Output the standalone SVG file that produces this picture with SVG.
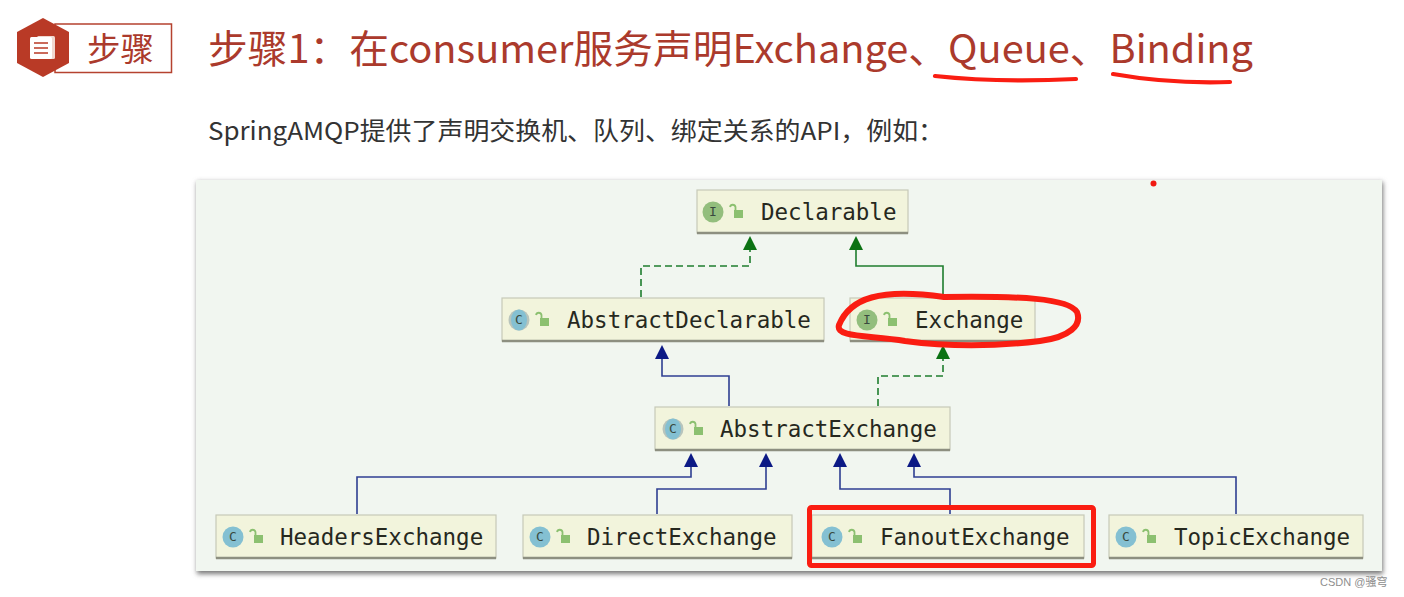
<svg xmlns="http://www.w3.org/2000/svg" width="1404" height="597" viewBox="0 0 1404 597">
<style>
.t{font-family:"DejaVu Sans Mono","Liberation Mono",monospace;font-size:22.5px;fill:#26281e}
.n{fill:#f2f4dc;stroke:#c6c9b8;stroke-width:1.2}
.b{stroke:#8d8f80;stroke-width:2.5}
.ci{fill:#84c0d2}.ii{fill:#93be7d}
.l{font-family:"DejaVu Sans Mono",monospace;font-size:13px;fill:#3a4a40;text-anchor:middle}
.lk{fill:#8cc070}
.bl{fill:none;stroke:#2f3f92;stroke-width:1.6}
.gr{fill:none;stroke:#1f7d2e;stroke-width:1.6}
.da{stroke-dasharray:7 4}
.ab{fill:#0c1a85}.ag{fill:#0b7213}
.red{fill:none;stroke:#fa1d12;stroke-linecap:round;stroke-linejoin:round}
.h{font-family:"Noto Sans CJK SC","Noto Sans",sans-serif;fill:#ab3a2c}
</style>
<defs>
<filter id="s" x="-3%" y="-5%" width="106%" height="110%"><feGaussianBlur stdDeviation="2.5"/></filter>
<g id="lock"><path d="M-7-5a2.800 2.800 0 0 1 5.500 0v3" fill="none" stroke="#8cc070" stroke-width="1.800"/><rect class="lk" x="-3" y="-2" width="9" height="8"/></g>
</defs>
<rect width="1404" height="597" fill="#fff"/>
<g id="badge">
<rect x="55" y="24" width="116.500" height="48.500" fill="#fff" stroke="#b5422f" stroke-width="1.500"/>
<polygon points="43,18 69,32 69,63 43,77 17,63 17,32" fill="#b93a26"/>
<rect x="37" y="36" width="18" height="23" rx="1.500" fill="#f0d8d0"/>
<rect x="30" y="37" width="22" height="22" rx="1.500" fill="#fff"/>
<path d="M34 43h14M34 48h14M34 53h14" stroke="#b93a26" stroke-width="1.300"/>
<text class="h" x="87" y="61" font-size="33.500">步骤</text>
</g>
<text class="h" x="208" y="63" font-size="39" textLength="1045" lengthAdjust="spacingAndGlyphs">步骤1：在consumer服务声明Exchange、Queue、Binding</text>
<text x="208" y="140" font-family="Noto Sans CJK SC,Noto Sans,sans-serif" font-size="24.500" fill="#333" textLength="736" lengthAdjust="spacingAndGlyphs">SpringAMQP提供了声明交换机、队列、绑定关系的API，例如：</text>
<rect x="197" y="182" width="1186" height="392" fill="#777" filter="url(#s)"/>
<rect x="196" y="180" width="1186" height="391" fill="#f1f6f0"/>
<g id="connectors">
<path class="gr da" d="M641 297V266H750V246"/>
<path class="gr" d="M943 297V266H856V246"/>
<path class="bl" d="M729 406V376H662V355"/>
<path class="gr da" d="M878 406V376H943V355"/>
<path class="bl" d="M357 514V477H691V463"/>
<path class="bl" d="M657 514V489H766V463"/>
<path class="bl" d="M950 514V489H840V463"/>
<path class="bl" d="M1236 514V477H914V463"/>
<polygon class="ag" points="750,236 743,250 757,250"/>
<polygon class="ag" points="856,236 849,250 863,250"/>
<polygon class="ab" points="662,345 655,359 669,359"/>
<polygon class="ag" points="943,345 936,359 950,359"/>
<polygon class="ab" points="691,453 684,467 698,467"/>
<polygon class="ab" points="766,453 759,467 773,467"/>
<polygon class="ab" points="840,453 833,467 847,467"/>
<polygon class="ab" points="914,453 907,467 921,467"/>
</g>
<g id="n-declarable">
<rect class="n" x="697" y="190" width="211" height="43"/><path class="b" d="M697 233H908"/>
<circle class="ii" cx="713" cy="212" r="10.500"/><text class="l" x="713" y="216">I</text><use href="#lock" x="737" y="212"/>
<text class="t" x="761" y="220">Declarable</text>
</g>
<g id="n-abstractdeclarable">
<rect class="n" x="502" y="298" width="322" height="43"/><path class="b" d="M502 341H824"/>
<circle fill="#b8c4bc" cx="519" cy="320" r="10.500"/><ellipse class="ci" cx="519" cy="320" rx="8" ry="10.500"/><text class="l" x="519" y="324">C</text><use href="#lock" x="543" y="320"/>
<text class="t" x="567" y="328">AbstractDeclarable</text>
</g>
<g id="n-exchange">
<rect class="n" x="850" y="298" width="185" height="43"/><path class="b" d="M850 341H1035"/>
<circle class="ii" cx="867" cy="320" r="10.500"/><text class="l" x="867" y="324">I</text><use href="#lock" x="891" y="320"/>
<text class="t" x="915" y="328">Exchange</text>
</g>
<g id="n-abstractexchange">
<rect class="n" x="655" y="407" width="295" height="43"/><path class="b" d="M655 450H950"/>
<circle fill="#b8c4bc" cx="673" cy="429" r="10.500"/><ellipse class="ci" cx="673" cy="429" rx="8" ry="10.500"/><text class="l" x="673" y="433">C</text><use href="#lock" x="697" y="429"/>
<text class="t" x="720" y="437">AbstractExchange</text>
</g>
<g id="n-headers">
<rect class="n" x="216" y="515" width="280" height="43"/><path class="b" d="M216 558H496"/>
<circle class="ci" cx="233" cy="537" r="10.500"/><text class="l" x="233" y="541">C</text><use href="#lock" x="257" y="537"/>
<text class="t" x="280" y="545">HeadersExchange</text>
</g>
<g id="n-direct">
<rect class="n" x="523" y="515" width="269" height="43"/><path class="b" d="M523 558H792"/>
<circle class="ci" cx="540" cy="537" r="10.500"/><text class="l" x="540" y="541">C</text><use href="#lock" x="564" y="537"/>
<text class="t" x="587" y="545">DirectExchange</text>
</g>
<g id="n-fanout">
<rect class="n" x="812" y="515" width="272" height="43"/><path class="b" d="M812 558H1084"/>
<circle class="ci" cx="832" cy="537" r="10.500"/><text class="l" x="832" y="541">C</text><use href="#lock" x="856" y="537"/>
<text class="t" x="880" y="545">FanoutExchange</text>
</g>
<g id="n-topic">
<rect class="n" x="1109" y="515" width="254" height="43"/><path class="b" d="M1109 558H1363"/>
<circle class="ci" cx="1126" cy="537" r="10.500"/><text class="l" x="1126" y="541">C</text><use href="#lock" x="1150" y="537"/>
<text class="t" x="1174" y="545">TopicExchange</text>
</g>
<g id="annotations">
<path class="red" stroke-width="4.200" d="M935 76Q1000 83 1076 79"/>
<path class="red" stroke-width="4.200" d="M1113 74Q1170 84 1230 82"/>
<circle cx="1153.500" cy="183.500" r="3" fill="#f01a12"/>
<path class="red" stroke-width="6" d="M944 297C880 288 850 298 839 325C835 338 870 335 905 341C950 347 1000 346 1040 341C1070 337 1082 325 1077 312C1068 298 1020 296 944 297"/>
<rect class="red" x="809.500" y="507.500" width="284" height="58" rx="2" stroke-width="5"/>
</g>
<text x="1320" y="586" font-family="Liberation Sans,Noto Sans CJK SC,sans-serif" font-size="11" fill="#8e8e8e">CSDN @骚穹</text>
</svg>
